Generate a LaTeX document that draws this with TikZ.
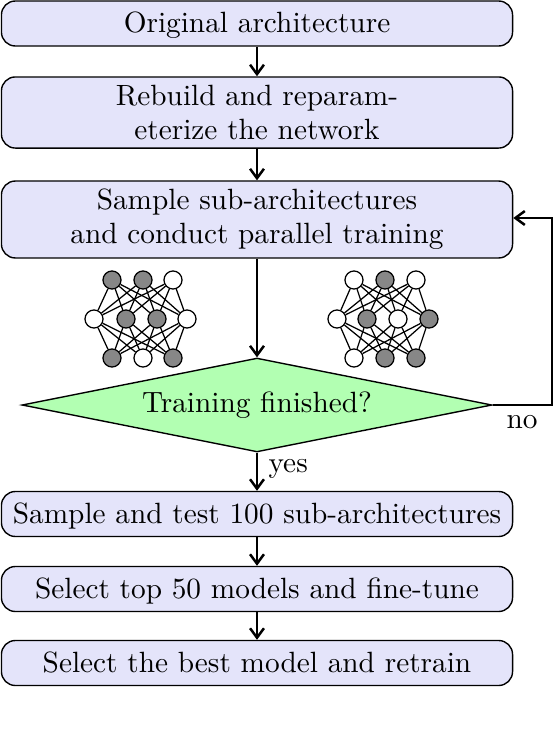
\documentclass[tikz,border=0pt]{standalone}
\usepackage{xcolor}
\usetikzlibrary{shapes.geometric,arrows.meta}
\definecolor{boxblue}{RGB}{228,228,250}
\definecolor{diagreen}{RGB}{178,255,178}
\definecolor{cellgray}{RGB}{135,135,135}
\tikzset{
  stepbox/.style={draw, rounded corners=5pt, fill=boxblue, line width=0.5pt, minimum width=184pt, inner sep=0pt, align=center, font=\fontsize{10.55}{12.2}\selectfont},
  single/.style={minimum height=16.2pt, text height=7.7pt, text depth=1.2pt},
  decide/.style={draw, diamond, aspect=5, fill=diagreen, line width=0.5pt, inner sep=0pt, minimum width=169.2pt, minimum height=33.8pt, font=\fontsize{10.55}{12.2}\selectfont},
  flow/.style={-{Straight Barb[length=3.4pt,width=5pt]}, line width=0.9pt},
  cell/.style={draw, circle, line width=0.45pt, minimum size=6.5pt, inner sep=0pt, fill=white},
  on/.style={fill=cellgray},
  wire/.style={line width=0.45pt},
  tag/.style={font=\fontsize{10.55}{12.2}\selectfont, inner sep=0pt},
}
\begin{document}
\begin{tikzpicture}[x=0.36pt, y=-0.36pt]
  \useasboundingbox (0,0) rectangle (554,744);

  % the steps
  \node[stepbox, single] (orig) at (257,23.5) {Original architecture};
  \node[stepbox, minimum height=25.6pt] (rebuild) at (257,112.5) {Rebuild and repar\-am-\\eterize the network};
  \node[stepbox, minimum height=27.7pt] (sample) at (257,219.5) {Sample sub-architectures\\and conduct parallel training};
  \node[decide] (done) at (257,405) {Training finished?};
  \node[stepbox, single] (test) at (257,514) {Sample and test 100 sub-architectures};
  \node[stepbox, single] (top) at (257,589) {Select top 50 models and fine-tune};
  \node[stepbox, single] (best) at (257,663) {Select the best model and retrain};

  % the arrows
  \draw[flow] (orig) -- (rebuild);
  \draw[flow] (rebuild) -- (sample);
  \draw[flow] (sample) -- (done);
  \draw[flow] (done) -- (test);
  \draw[flow] (test) -- (top);
  \draw[flow] (top) -- (best);
  \coordinate (back) at (552,405);
  \draw[flow] (done.east) -- (back) |- (sample.east |- 0,218);

  \node[tag, anchor=west] (yes) at (268,469) {yes};
  \node[tag] (no) at (522,422) {no};

  % left network
  \foreach \x/\n/\s in {112/1/on, 143/2/on, 173/3/}
    \node[cell, \s] (la\n) at (\x,280) {};
  \foreach \x/\n/\s in {94/1/, 126/2/on, 157/3/on, 187/4/}
    \node[cell, \s] (lb\n) at (\x,319) {};
  \foreach \x/\n/\s in {112/1/on, 143/2/, 173/3/on}
    \node[cell, \s] (lc\n) at (\x,358) {};
  % right network
  \foreach \x/\n/\s in {354/1/, 385/2/on, 416/3/}
    \node[cell, \s] (ra\n) at (\x,280) {};
  \foreach \x/\n/\s in {337/1/, 367/2/on, 398/3/, 429/4/on}
    \node[cell, \s] (rb\n) at (\x,319) {};
  \foreach \x/\n/\s in {354/1/, 385/2/on, 416/3/on}
    \node[cell, \s] (rc\n) at (\x,358) {};
  % wires
  \foreach \p in {l,r}
    \foreach \i in {1,2,3}
      \foreach \j in {1,2,3,4} {
        \draw[wire] (\p a\i) -- (\p b\j);
        \draw[wire] (\p b\j) -- (\p c\i);
      }
\end{tikzpicture}
\end{document}
